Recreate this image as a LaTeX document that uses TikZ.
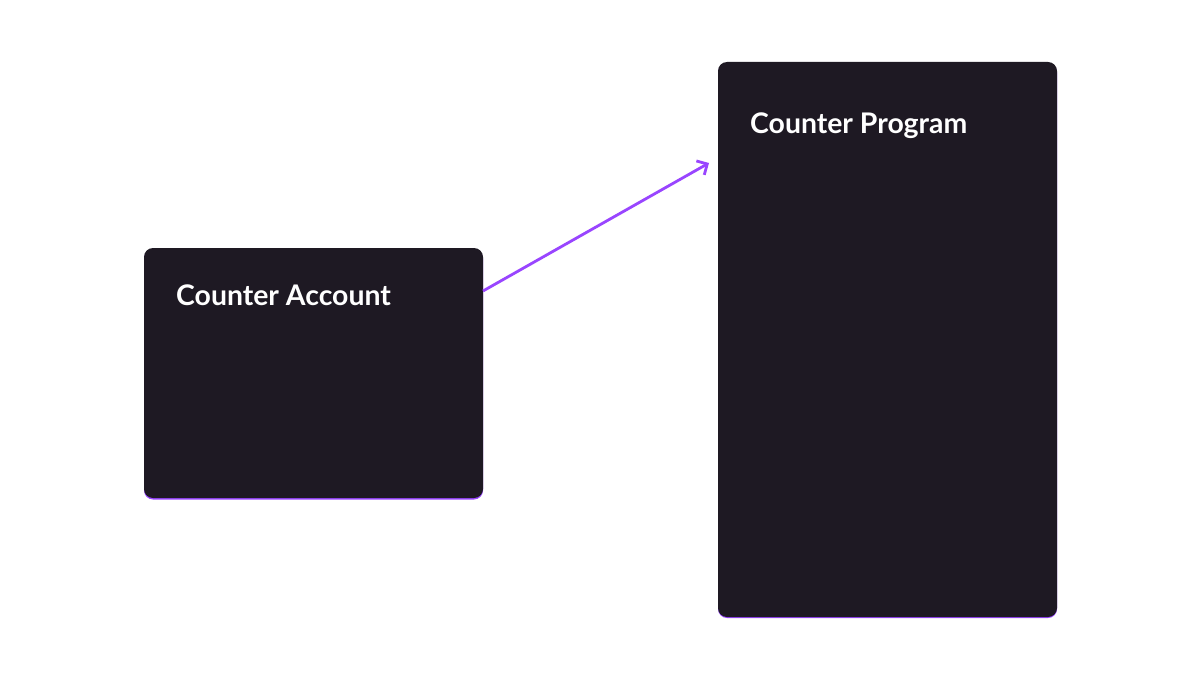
\documentclass[tikz,border=0pt]{standalone}
\usepackage{fontspec}
\setmainfont{Lato}
\usetikzlibrary{arrows.meta}
\definecolor{boxdark}{HTML}{1E1923}
\definecolor{sol}{HTML}{9945FF}
\begin{document}
\begin{tikzpicture}[x=1bp,y=-1bp,
  card/.style={fill=boxdark, rounded corners=9bp, inner sep=0pt, outer sep=0pt},
  under/.style={fill=sol, rounded corners=9bp},
  lbl/.style={text=white, font=\fontsize{28.5}{32}\selectfont\bfseries, anchor=base west, inner sep=0pt},
  conn/.style={draw=sol, line width=2.8bp, -{Straight Barb[length=8bp,width=16bp,line width=2.8bp]}}]
\useasboundingbox[fill=white] (0,0) rectangle (1200,675);
% purple underline hints
\fill[under] (144,249.5) rectangle (483,499.5);
\fill[under] (718,63.5) rectangle (1057,618);
\path[card] (144,248) rectangle (483,498);
\path[card] (718,62) rectangle (1057,617);
\coordinate (accR) at (483,291);
\coordinate (progL) at (709,163);
\node[lbl] (acc) at (176,305) {Counter Account};
\node[lbl] (prog) at (750,134) {Counter Program};
\draw[conn] (accR) -- (progL);
\end{tikzpicture}
\end{document}
